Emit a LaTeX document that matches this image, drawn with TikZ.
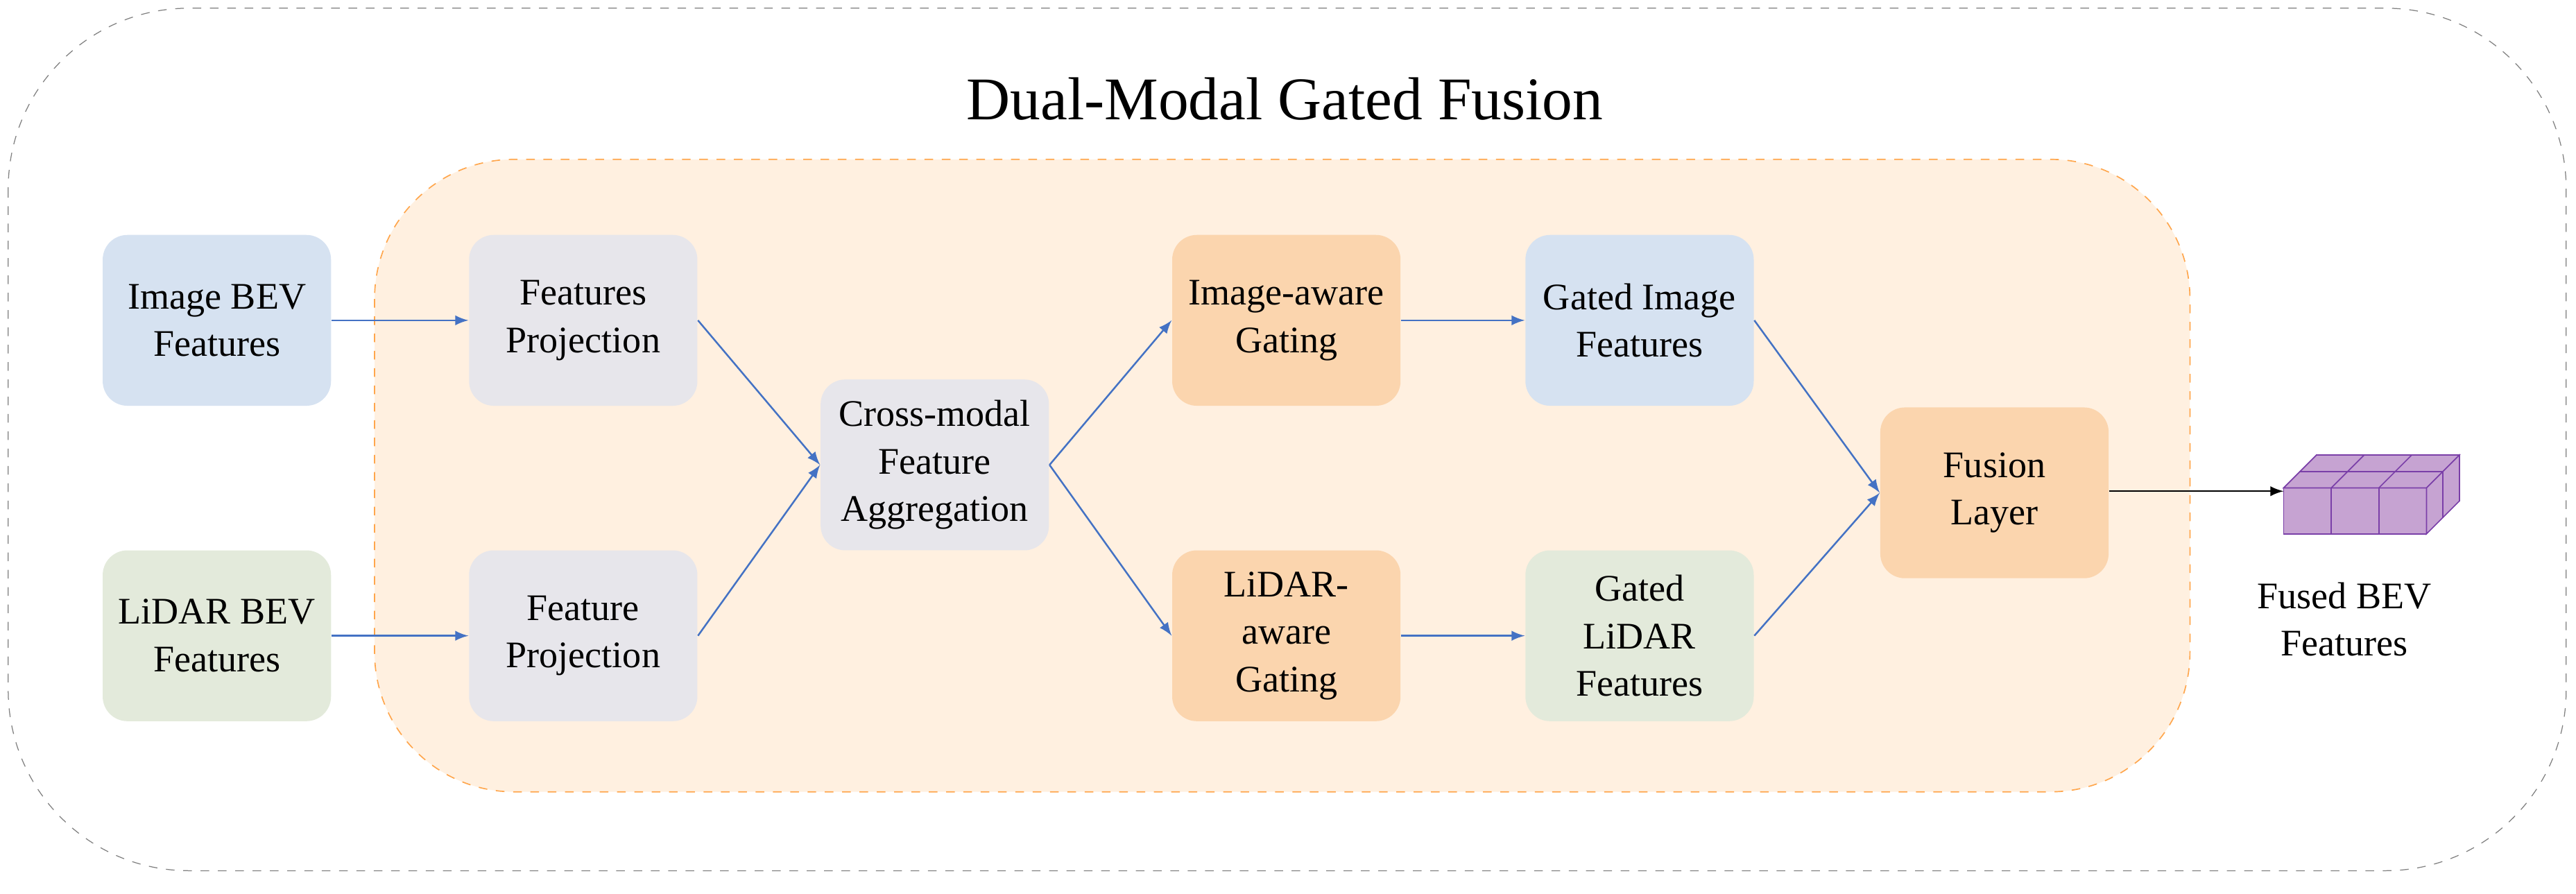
\documentclass[tikz,border=0pt]{standalone}
\usepackage{fontspec}
\setmainfont{Liberation Serif}
\begin{document}
\begin{tikzpicture}[x=0.02cm,y=-0.02cm,
  box/.style={rounded corners=0.3cm,minimum width=2.78cm,minimum height=2.08cm,align=center,font=\fontsize{13}{16.5}\selectfont,inner sep=1pt},
  bl/.style={box,fill=blueF},gr/.style={box,fill=greenF},gy/.style={box,fill=grayF},og/.style={box,fill=orangeF},
  arr/.style={draw=arrB,line width=0.6pt,-latex}]
\definecolor{blueF}{HTML}{D6E2F1}
\definecolor{greenF}{HTML}{E3EADB}
\definecolor{grayF}{HTML}{E7E6EB}
\definecolor{orangeF}{HTML}{FBD5AE}
\definecolor{arrB}{HTML}{4472C4}
\definecolor{cubeF}{HTML}{C6A3D2}
\definecolor{cubeL}{HTML}{7A3FA8}
\useasboundingbox (0,0) rectangle (1568,544);
\draw[gray,dashed,line width=0.3pt,rounded corners=2.2cm] (5,5) rectangle (1562,530);
\draw[orange!70,fill=orange!12,dashed,line width=0.4pt,rounded corners=1.7cm] (228,97) rectangle (1333,482);
\node[font=\fontsize{21}{25}\selectfont] (title) at (782,60) {Dual-Modal Gated Fusion};
\node[bl] (ib) at (132,195) {Image BEV\\Features};
\node[gr] (lb) at (132,387) {LiDAR BEV\\Features};
\node[gy] (fp1) at (355,195) {Features\\Projection};
\node[gy] (fp2) at (355,387) {Feature\\Projection};
\node[gy] (cm) at (569,283) {Cross-modal\\Feature\\Aggregation};
\node[og] (ia) at (783,195) {Image-aware\\Gating};
\node[og] (la) at (783,387) {LiDAR-\\aware\\Gating};
\node[bl] (gi) at (998,195) {Gated Image\\Features};
\node[gr] (gl) at (998,387) {Gated\\LiDAR\\Features};
\node[og] (fu) at (1214,300) {Fusion\\Layer};
% cube
\begin{scope}[fill=cubeF,draw=cubeL,line width=0.4pt]
\foreach \d in {2,1,0}{
  \filldraw (1390+10*\d,297-10*\d) -- ++(87,0) -- ++(0,28) -- ++(-87,0) -- cycle;
  \foreach \k in {1,2} \draw (1390+10*\d+29*\k,297-10*\d) -- ++(0,28);
}
\filldraw (1390,297) -- ++(20,-20) -- ++(87,0) -- ++(-20,20) -- cycle;
\filldraw (1477,297) -- ++(20,-20) -- ++(0,28) -- ++(-20,20) -- cycle;
\foreach \k in {1,2} \draw (1390+29*\k,297) -- ++(20,-20);
\draw (1400,287) -- ++(87,0) -- ++(0,28);
\coordinate (cube) at (1390,299);
\end{scope}
\node[align=center,font=\fontsize{13}{16.5}\selectfont] (fb) at (1427,377) {Fused BEV\\Features};
\draw[arr] (ib) -- (fp1);
\draw[arr] (lb) -- (fp2);
\draw[arr] (fp1.east) -- (cm.west);
\draw[arr] (fp2.east) -- (cm.west);
\draw[arr] (cm.east) -- (ia.west);
\draw[arr] (cm.east) -- (la.west);
\draw[arr] (ia) -- (gi);
\draw[arr] (la) -- (gl);
\draw[arr] (gi.east) -- (fu.west);
\draw[arr] (gl.east) -- (fu.west);
\draw[line width=0.6pt,-latex] (fu.east |- cube) -- (cube);
\end{tikzpicture}
\end{document}
